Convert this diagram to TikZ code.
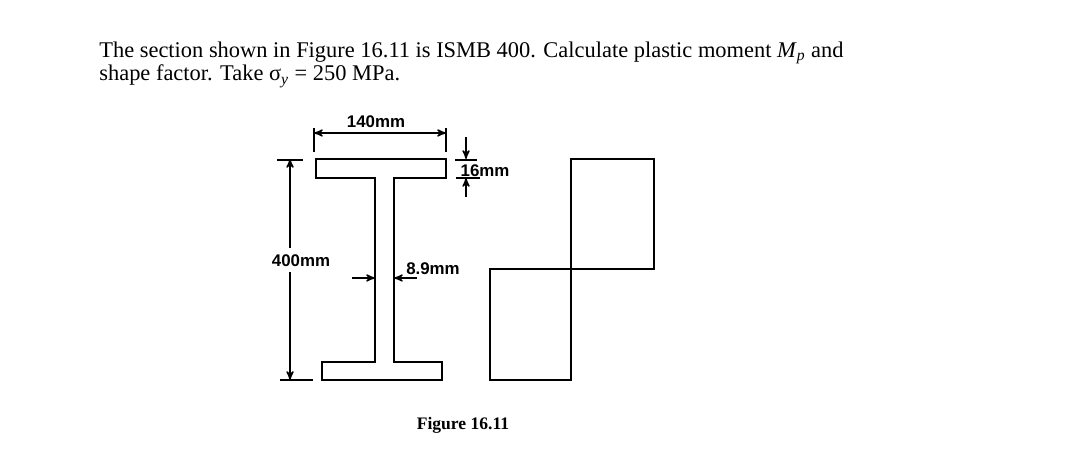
\documentclass[tikz,border=0pt]{standalone}
\usepackage{fontspec}
\setmainfont{Liberation Serif}
\newfontfamily\dimfont{Liberation Sans}
\usetikzlibrary{arrows}

\tikzset{
    body/.style={inner sep=0pt, anchor=base west, font=\fontsize{12.77pt}{14pt}\selectfont},
    dimtext/.style={inner sep=0pt, font=\dimfont\fontsize{9.6pt}{11pt}\selectfont\bfseries},
    outline/.style={black, line width=0.9pt},
    dimline/.style={black, line width=0.8pt},
    dimarrow/.style={dimline, -stealth'},
    dimboth/.style={dimline, stealth'-stealth'}
}

\begin{document}
\begin{tikzpicture}[x=0.02cm, y=-0.02cm]
    \useasboundingbox (0, 0) rectangle (1080, 466);

    % problem text
    \node[body] (line1) at (99, 57.5) {The section shown in Figure 16.11 is ISMB 400. Calculate plastic moment \textit{M}\textsubscript{\textit{p}} and};
    \node[body] (line2) at (99, 81) {shape factor. Take σ\textsubscript{\textit{y}} = 250 MPa.};

    % I section
    \draw[outline] (316, 159) -- (446, 159) -- (446, 178) -- (394, 178) -- (394, 362)
        -- (442, 362) -- (442, 380) -- (322, 380) -- (322, 362) -- (375, 362)
        -- (375, 178) -- (316, 178) -- cycle;

    % stress blocks
    \draw[outline] (571, 159) -- (654, 159) -- (654, 269) -- (490, 269) -- (490, 380)
        -- (571, 380) -- cycle;

    % 140mm
    \node[dimtext] (width) at (376, 122) {140mm};
    \coordinate (wl) at (314, 133);
    \coordinate (wr) at (446, 133);
    \draw[dimline] (314, 128) -- (314, 152);
    \draw[dimline] (446, 128) -- (446, 152);
    \draw[dimboth] (wl) -- (wr);

    % 400mm
    \node[dimtext] (depth) at (301, 261) {400mm};
    \coordinate (dt) at (290, 159);
    \coordinate (db) at (290, 380);
    \draw[dimline] (277, 160) -- (303, 160);
    \draw[dimline] (280, 380) -- (313, 380);
    \draw[dimarrow] (depth.north -| dt) ++(0, -7) -- (dt);
    \draw[dimarrow] (depth.south -| db) ++(0, 5) -- (db);

    % 16mm
    \node[dimtext] (tf) at (485, 171) {16mm};
    \coordinate (ft) at (466, 159);
    \coordinate (fb) at (466, 178);
    \draw[dimline] (455, 160) -- (477, 160);
    \draw[dimline] (456, 178) -- (480, 178);
    \draw[dimarrow] (466, 137) -- (ft);
    \draw[dimarrow] (466, 197) -- (fb);

    % 8.9mm
    \node[dimtext] (tw) at (433, 269) {8.9mm};
    \coordinate (el) at (375, 278);
    \coordinate (er) at (394, 278);
    \draw[dimarrow] (352, 278) -- (el);
    \draw[dimarrow] (417, 278) -- (er);

    % caption
    \node[inner sep=0pt, font=\fontsize{10pt}{12pt}\selectfont\bfseries] (caption) at (463, 425) {Figure 16.11};
\end{tikzpicture}
\end{document}
